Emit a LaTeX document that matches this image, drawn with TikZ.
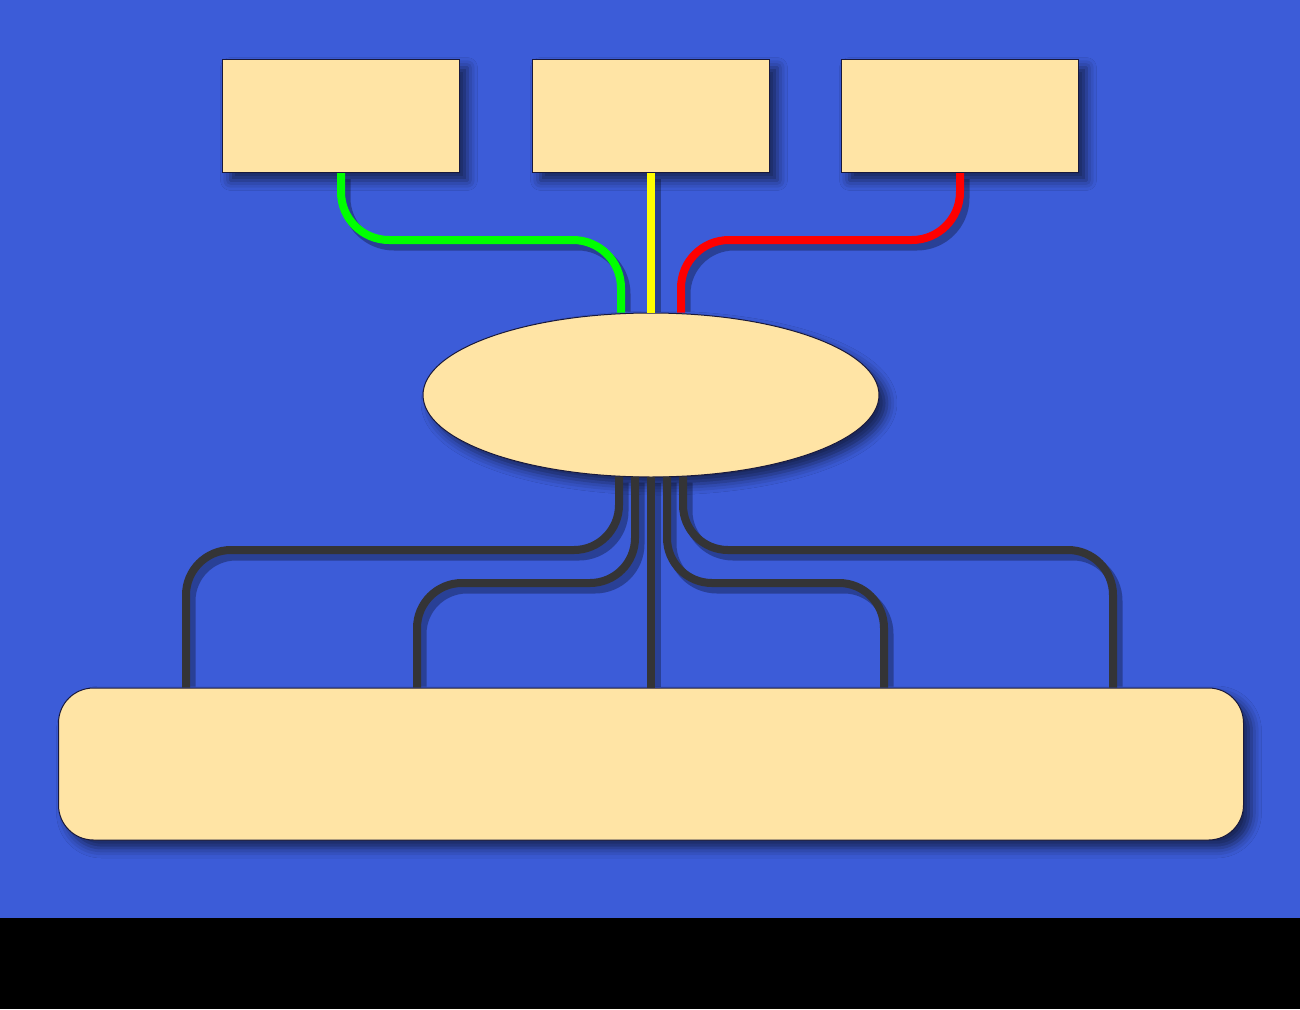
\documentclass[tikz,border=0pt]{standalone}
\usetikzlibrary{calc,positioning,shapes.geometric,shadows.blur}
\definecolor{mybg}{RGB}{60,92,216}
\definecolor{mycream}{RGB}{255,228,165}
\definecolor{myedge}{RGB}{25,25,60}
\definecolor{wdark}{RGB}{52,52,54}
\definecolor{wgreen}{RGB}{0,255,0}
\definecolor{wyellow}{RGB}{255,255,0}
\definecolor{wred}{RGB}{255,0,0}
\tikzstyle{panel}=[draw=myedge,line width=1pt,fill=mycream,inner sep=0pt,blur shadow={shadow xshift=8pt,shadow yshift=-8pt,shadow blur radius=10pt,shadow opacity=60}]
\tikzstyle{box}=[panel,rectangle,minimum width=237pt,minimum height=113pt]
\tikzstyle{hub}=[panel,ellipse,minimum width=456pt,minimum height=164pt]
\tikzstyle{bar}=[panel,rectangle,rounded corners=35pt,minimum width=1185pt,minimum height=152pt]
\tikzstyle{wire}=[line width=8pt,rounded corners=48pt,preaction={draw=black,draw opacity=0.3,line width=9pt,shorten >=7pt,transform canvas={shift={(5pt,-6pt)}}}]

\begin{document}
\begin{tikzpicture}[x=1pt,y=-1pt]
\useasboundingbox (0,0) rectangle (1300,1009);
\fill[mybg] (0,0) rectangle (1300,918);
\fill[black] (0,918) rectangle (1300,1009);
\draw (341, 116) node [box] (b1) {};
\draw (651, 116) node [box] (b2) {};
\draw (960, 116) node [box] (b3) {};
\draw (651, 395) node [hub] (e) {};
\draw (651, 764) node [bar] (base) {};
\draw[wire,wgreen] (b1.south) -- (341,240) -- (621,240) -- ([xshift=-30pt]e.north);
\draw[wire,wyellow] (b2.south) -- (e.north);
\draw[wire,wred] (b3.south) -- (960,240) -- (681,240) -- ([xshift=30pt]e.north);
\tikzstyle{wire}=[line width=8pt,rounded corners=45pt,preaction={draw=black,draw opacity=0.3,line width=9pt,shorten >=7pt,transform canvas={shift={(5pt,-6pt)}}}]
\draw[wire,wdark] ([xshift=-32pt,yshift=1pt]e.south) -- (619,550) -- (186,550) -- (base.north -| 186,0);
\draw[wire,wdark] ([xshift=-16pt,yshift=1pt]e.south) -- (635,583) -- (417,583) -- (base.north -| 417,0);
\draw[wire,wdark] ([yshift=1pt]e.south) -- (base.north);
\draw[wire,wdark] ([xshift=16pt,yshift=1pt]e.south) -- (667,583) -- (884,583) -- (base.north -| 884,0);
\draw[wire,wdark] ([xshift=32pt,yshift=1pt]e.south) -- (683,550) -- (1113,550) -- (base.north -| 1113,0);
\end{tikzpicture}
\end{document}
